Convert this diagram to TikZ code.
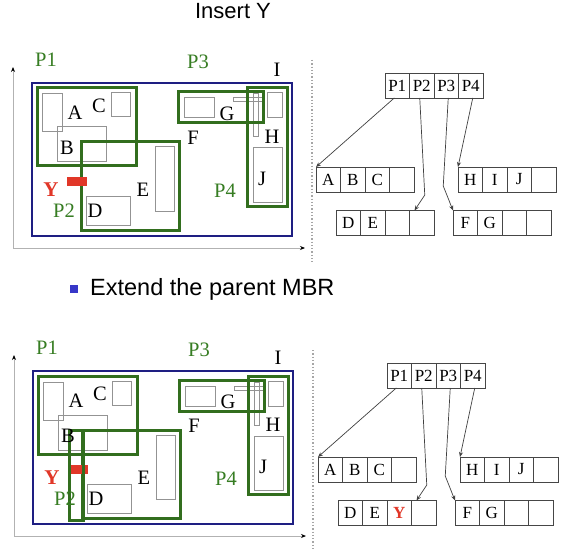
\documentclass[tikz,border=0pt]{standalone}
\usepackage{fontspec}
\setmainfont{Liberation Serif}
\newfontfamily\sansf{Liberation Sans}
\usetikzlibrary{arrows.meta,positioning}
\definecolor{mbrgreen}{RGB}{50,110,30}
\definecolor{lblgreen}{RGB}{55,125,35}
\definecolor{navyb}{RGB}{30,30,130}
\definecolor{ered}{RGB}{225,55,40}
\definecolor{bulletblue}{RGB}{55,55,200}

\newcommand\mbrscene[2]{%
  \coordinate (#1o) at (13,248);
  \draw[axis] (#1o) -- (13,67);
  \draw[axis] (#1o) -- (305,248);
  \draw[navyb, line width=2.5pt] (32,83) rectangle (292,236);
  \draw[obj] (42,94) rectangle (62,132);
  \draw[obj] (111,93) rectangle (130,117);
  \draw[obj] (57,127) rectangle (106,162);
  \draw[obj] (155,147) rectangle (174,211);
  \draw[obj] (86,196) rectangle (130,225);
  \draw[obj] (184,98) rectangle (214,118);
  \draw[obj] (233,98) rectangle (262,102);
  \draw[obj] (253,94) rectangle (258,137);
  \draw[obj] (267,93) rectangle (282,118);
  \draw[obj] (253,148) rectangle (282,202);
  \draw[mbr] (37,88) rectangle (136,166);
  \draw[mbr] (81,142) rectangle (179,230);
  \draw[mbr] (178,92) rectangle (263,123);
  \draw[mbr] (247,88) rectangle (287,206);
  \fill[ered] (67,177) rectangle (87,186);
  #2
  \node[glbl] (#1P1) at (46,60) {P1};
  \node[glbl] (#1P3) at (198,62) {P3};
  \node[lbl] (#1I) at (277,70) {I};
  \node[lbl] (#1A) at (75,113) {A};
  \node[lbl] (#1C) at (99,106) {C};
  \node[lbl] (#1B) at (67,148) {B};
  \node[lbl] (#1E) at (143,190) {E};
  \node[lbl] (#1D) at (95,211) {D};
  \node[lbl, text=ered, font=\bfseries\fontsize{21}{21}\selectfont] (#1Y) at (51,190) {Y};
  \node[glbl] (#1P2) at (64,211) {P2};
  \node[lbl] (#1G) at (227,114) {G};
  \node[lbl] (#1F) at (193,138) {F};
  \node[lbl] (#1H) at (272,137) {H};
  \node[lbl] (#1J) at (262,179) {J};
  \node[glbl] (#1P4) at (225,191) {P4};
}

\newcommand\treescene[2]{%
  \node[cell] (#1r1) at (397.25,85.5) {P1};
  \node[cell, right=0pt of #1r1] (#1r2) {P2};
  \node[cell, right=0pt of #1r2] (#1r3) {P3};
  \node[cell, right=0pt of #1r3] (#1r4) {P4};
  \node[cell] (#1a1) at (328.25,179.5) {A};
  \node[cell, right=0pt of #1a1] (#1a2) {B};
  \node[cell, right=0pt of #1a2] (#1a3) {C};
  \node[cell, right=0pt of #1a3] (#1a4) {};
  \node[cell] (#1h1) at (470.25,179.5) {H};
  \node[cell, right=0pt of #1h1] (#1h2) {I};
  \node[cell, right=0pt of #1h2] (#1h3) {J};
  \node[cell, right=0pt of #1h3] (#1h4) {};
  \node[cell] (#1d1) at (348.25,223) {D};
  \node[cell, right=0pt of #1d1] (#1d2) {E};
  \node[cell, right=0pt of #1d2] (#1d3) {#2};
  \node[cell, right=0pt of #1d3] (#1d4) {};
  \node[cell] (#1f1) at (465.25,223) {F};
  \node[cell, right=0pt of #1f1] (#1f2) {G};
  \node[cell, right=0pt of #1f2] (#1f3) {};
  \node[cell, right=0pt of #1f3] (#1f4) {};
  \draw[ptr] ([xshift=-3pt]#1r1.south) -- (#1a1.north west);
  \draw[ptr] ([xshift=-2pt]#1r2.south) -- ++(5,97) -- ([xshift=5pt]#1d4.north west);
  \draw[ptr] ([xshift=2pt]#1r3.south) -- ++(-5,88) -- (#1f1.north west);
  \draw[ptr] ([xshift=2pt]#1r4.south) -- (#1h1.north west);
}

\begin{document}
\begin{tikzpicture}[x=1pt,y=-1pt,
  mbr/.style={draw=mbrgreen, line width=3pt},
  obj/.style={draw=gray!85, line width=1pt},
  lbl/.style={font=\fontsize{20.5}{20.5}\selectfont, inner sep=0pt},
  glbl/.style={lbl, text=lblgreen},
  cell/.style={draw=gray!55!black, line width=0.8pt, minimum width=24.5pt, minimum height=25pt, inner sep=0pt, outer sep=0pt, font=\fontsize{17}{17}\selectfont},
  ptr/.style={draw=black!75, line width=0.7pt, -{Stealth[length=5pt,width=4pt]}},
  axis/.style={draw=gray!60, line width=1pt, -{Stealth[length=5pt,width=4pt,color=black]}},
  divider/.style={draw=gray!70, line width=1.3pt, dotted}
]
\useasboundingbox (0,0) rectangle (575,556);
\fill[white] (0,0) rectangle (575,556);

\node[font=\sansf\fontsize{22}{22}\selectfont, anchor=base, inner sep=0pt] (title) at (233,19) {Insert Y};

\mbrscene{t}{}
\coordinate (tdv1) at (312,60);
\coordinate (tdv2) at (312,262);
\draw[divider] (tdv1) -- (tdv2);
\treescene{t}{}

\node[fill=bulletblue, minimum size=8pt, inner sep=0pt] (bul) at (74,289) {};
\node[anchor=base west, inner sep=0pt, font=\sansf\fontsize{23.5}{23.5}\selectfont] (ext) at (90,295) {Extend the parent MBR};

\begin{scope}[shift={(1,288)}]
  \mbrscene{b}{\draw[mbr] (68,142) rectangle (82,232);}
\end{scope}
\coordinate (bdv1) at (313,350);
\coordinate (bdv2) at (313,550);
\draw[divider] (bdv1) -- (bdv2);
\begin{scope}[shift={(2,290)}]
  \treescene{b}{\textcolor{ered}{\bfseries Y}}
\end{scope}
\end{tikzpicture}
\end{document}
